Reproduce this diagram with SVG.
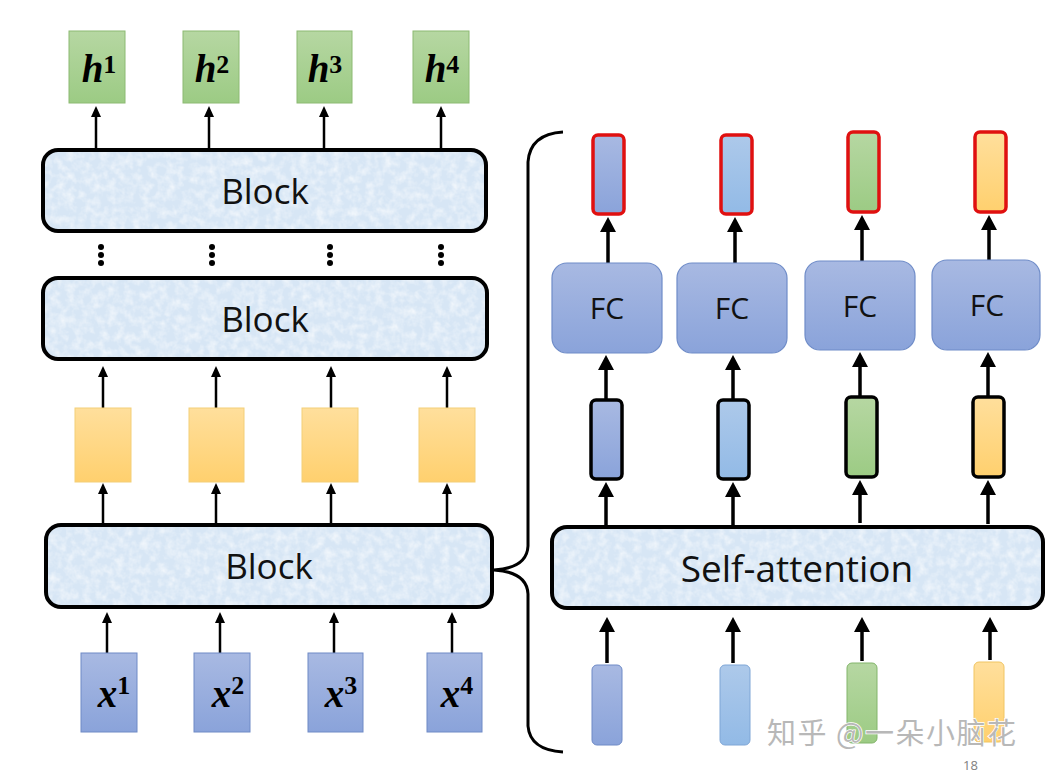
<svg xmlns="http://www.w3.org/2000/svg" width="1049" height="778" viewBox="0 0 1049 778">
<defs>
<style>
.blk{fill:#d7e6f5;stroke:#000;stroke-width:4}
.tex{fill:#000;filter:url(#noise)}
.lbl{font-family:"Open Sans","Noto Sans",sans-serif;fill:#111;text-anchor:middle}
.mi{font-family:"Liberation Serif","DejaVu Serif",serif;font-style:italic;font-weight:bold;font-size:39px;fill:#000}
.sup{font-family:"Liberation Serif","DejaVu Serif",serif;font-style:normal;font-weight:bold;font-size:26px;fill:#000}
.g{fill:url(#gG);stroke:#8cba72;stroke-width:1}
.y{fill:url(#gY);stroke:#f3cf78;stroke-width:1}
.b{fill:url(#gB);stroke:#6e8ac6;stroke-width:1}
.fc{fill:url(#gB);stroke:#6f8cc8;stroke-width:1.2}
.al{stroke:#000;stroke-width:2.5;fill:none;marker-end:url(#ah)}
.ar{stroke:#000;stroke-width:3.5;fill:none;marker-end:url(#ahr)}
.dot{fill:#000}
</style>
<linearGradient id="gG" x1="0" y1="0" x2="0" y2="1"><stop offset="0" stop-color="#b6d7a2"/><stop offset="1" stop-color="#9ccb84"/></linearGradient>
<linearGradient id="gY" x1="0" y1="0" x2="0" y2="1"><stop offset="0" stop-color="#ffdf9c"/><stop offset="1" stop-color="#ffd06e"/></linearGradient>
<linearGradient id="gB" x1="0" y1="0" x2="0" y2="1"><stop offset="0" stop-color="#a8b9e2"/><stop offset="1" stop-color="#8aa3da"/></linearGradient>
<linearGradient id="gLB" x1="0" y1="0" x2="0" y2="1"><stop offset="0" stop-color="#adc9ea"/><stop offset="1" stop-color="#92bae6"/></linearGradient>
<filter id="noise" x="0" y="0" width="1" height="1">
<feTurbulence type="fractalNoise" baseFrequency="0.12" numOctaves="3" seed="3" result="n"/>
<feColorMatrix in="n" type="matrix" values="0 0 0 0 1  0 0 0 0 1  0 0 0 0 1  1.2 0 0 0 -0.45" result="w"/>
<feComposite in="w" in2="SourceAlpha" operator="in"/>
</filter>
<marker id="ah" markerUnits="userSpaceOnUse" markerWidth="11" markerHeight="10" refX="2" refY="5" orient="auto" viewBox="0 0 11 10"><path d="M0,0 L11,5 L0,10 z" fill="#000"/></marker>
<marker id="ahr" markerUnits="userSpaceOnUse" markerWidth="15" markerHeight="16" refX="3" refY="8" orient="auto" viewBox="0 0 15 16"><path d="M0,0 L15,8 L0,16 z" fill="#000"/></marker>
</defs>
<rect width="1049" height="778" fill="#fff"/>

<g id="connectors">
<path class="al" d="M96,150 V115"/><path class="al" d="M209,150 V115"/><path class="al" d="M324,150 V115"/><path class="al" d="M441,150 V115"/>
<path class="al" d="M103,408 V375"/><path class="al" d="M216,408 V375"/><path class="al" d="M331,408 V375"/><path class="al" d="M447,408 V375"/>
<path class="al" d="M103,525 V492"/><path class="al" d="M216,525 V492"/><path class="al" d="M331,525 V492"/><path class="al" d="M447,525 V492"/>
<path class="al" d="M107,653 V621"/><path class="al" d="M220,653 V621"/><path class="al" d="M334,653 V621"/><path class="al" d="M452,653 V621"/>
<path class="ar" d="M607,663 V629"/><path class="ar" d="M733,663 V629"/><path class="ar" d="M862,661 V629"/><path class="ar" d="M990,660 V629"/>
<path class="ar" d="M606,527 V494"/><path class="ar" d="M733,527 V494"/><path class="ar" d="M860,523 V492"/><path class="ar" d="M988,524 V492"/>
<path class="ar" d="M606,400 V367"/><path class="ar" d="M733,400 V367"/><path class="ar" d="M860,397 V364"/><path class="ar" d="M988,397 V364"/>
<path class="ar" d="M608,263 V229"/><path class="ar" d="M735,263 V229"/><path class="ar" d="M862,261 V227"/><path class="ar" d="M989,260 V227"/>
<path d="M563,132 Q530,134 528,162 L528,546 Q527,568 494,570 Q527,572 528,594 L528,726 Q530,750 563,752" fill="none" stroke="#000" stroke-width="3"/>
</g>

<g id="h1"><rect class="g" x="69" y="31" width="56" height="72"/><text x="99" y="82" text-anchor="middle"><tspan class="mi">h</tspan><tspan class="sup" dy="-9">1</tspan></text></g>
<g id="h2"><rect class="g" x="183" y="31" width="56" height="72"/><text x="212" y="82" text-anchor="middle"><tspan class="mi">h</tspan><tspan class="sup" dy="-9">2</tspan></text></g>
<g id="h3"><rect class="g" x="297" y="31" width="55" height="72"/><text x="325" y="82" text-anchor="middle"><tspan class="mi">h</tspan><tspan class="sup" dy="-9">3</tspan></text></g>
<g id="h4"><rect class="g" x="413" y="31" width="56" height="72"/><text x="442" y="82" text-anchor="middle"><tspan class="mi">h</tspan><tspan class="sup" dy="-9">4</tspan></text></g>

<g id="block-top"><rect class="blk" x="43" y="150" width="443" height="81" rx="15"/><rect class="tex" x="45" y="152" width="439" height="77" rx="13"/><text class="lbl" x="265" y="204" font-size="35">Block</text></g>
<g id="dots">
<circle class="dot" cx="101" cy="247" r="3"/><circle class="dot" cx="101" cy="255" r="3"/><circle class="dot" cx="101" cy="263" r="3"/>
<circle class="dot" cx="212" cy="247" r="3"/><circle class="dot" cx="212" cy="255" r="3"/><circle class="dot" cx="212" cy="263" r="3"/>
<circle class="dot" cx="330" cy="247" r="3"/><circle class="dot" cx="330" cy="255" r="3"/><circle class="dot" cx="330" cy="263" r="3"/>
<circle class="dot" cx="441" cy="247" r="3"/><circle class="dot" cx="441" cy="255" r="3"/><circle class="dot" cx="441" cy="263" r="3"/>
</g>
<g id="block-mid"><rect class="blk" x="43" y="278" width="444" height="81" rx="15"/><rect class="tex" x="45" y="280" width="440" height="77" rx="13"/><text class="lbl" x="265" y="332" font-size="35">Block</text></g>

<g id="y1"><rect class="y" x="75" y="408" width="56" height="74"/></g>
<g id="y2"><rect class="y" x="189" y="408" width="55" height="74"/></g>
<g id="y3"><rect class="y" x="302" y="408" width="56" height="74"/></g>
<g id="y4"><rect class="y" x="419" y="408" width="56" height="74"/></g>

<g id="block-bot"><rect class="blk" x="46" y="525" width="446" height="82" rx="15"/><rect class="tex" x="48" y="527" width="442" height="78" rx="13"/><text class="lbl" x="269" y="579" font-size="35">Block</text></g>

<g id="x1"><rect class="b" x="81" y="653" width="56" height="79"/><text x="114" y="707" text-anchor="middle"><tspan class="mi">x</tspan><tspan class="sup" dy="-13">1</tspan></text></g>
<g id="x2"><rect class="b" x="194" y="653" width="56" height="79"/><text x="228" y="707" text-anchor="middle"><tspan class="mi">x</tspan><tspan class="sup" dy="-13">2</tspan></text></g>
<g id="x3"><rect class="b" x="308" y="653" width="55" height="79"/><text x="341" y="707" text-anchor="middle"><tspan class="mi">x</tspan><tspan class="sup" dy="-13">3</tspan></text></g>
<g id="x4"><rect class="b" x="427" y="653" width="55" height="79"/><text x="457" y="707" text-anchor="middle"><tspan class="mi">x</tspan><tspan class="sup" dy="-13">4</tspan></text></g>

<g id="out1"><rect x="593" y="135" width="31" height="79" rx="5" fill="url(#gB)" stroke="#e01010" stroke-width="3.5"/></g>
<g id="out2"><rect x="721" y="135" width="31" height="79" rx="5" fill="url(#gLB)" stroke="#e01010" stroke-width="3.5"/></g>
<g id="out3"><rect x="848" y="132" width="31" height="80" rx="5" fill="url(#gG)" stroke="#e01010" stroke-width="3.5"/></g>
<g id="out4"><rect x="975" y="132" width="31" height="80" rx="5" fill="url(#gY)" stroke="#e01010" stroke-width="3.5"/></g>

<g id="fc1"><rect class="fc" x="552" y="263" width="110" height="90" rx="15"/><text class="lbl" x="607" y="319" font-size="30">FC</text></g>
<g id="fc2"><rect class="fc" x="677" y="263" width="110" height="90" rx="15"/><text class="lbl" x="732" y="319" font-size="30">FC</text></g>
<g id="fc3"><rect class="fc" x="805" y="261" width="110" height="89" rx="15"/><text class="lbl" x="860" y="317" font-size="30">FC</text></g>
<g id="fc4"><rect class="fc" x="932" y="260" width="108" height="90" rx="15"/><text class="lbl" x="987" y="316" font-size="30">FC</text></g>

<g id="mid1"><rect x="591" y="400" width="31" height="79" rx="5" fill="url(#gB)" stroke="#000" stroke-width="3.5"/></g>
<g id="mid2"><rect x="718" y="400" width="31" height="79" rx="5" fill="url(#gLB)" stroke="#000" stroke-width="3.5"/></g>
<g id="mid3"><rect x="846" y="397" width="31" height="80" rx="5" fill="url(#gG)" stroke="#000" stroke-width="3.5"/></g>
<g id="mid4"><rect x="973" y="397" width="31" height="80" rx="5" fill="url(#gY)" stroke="#000" stroke-width="3.5"/></g>

<g id="self-attention"><rect class="blk" x="552" y="527" width="491" height="81" rx="15"/><rect class="tex" x="554" y="529" width="487" height="77" rx="13"/><text class="lbl" x="797" y="582" font-size="37">Self-attention</text></g>

<g id="in1"><rect x="592" y="665" width="30" height="80" rx="5" fill="url(#gB)" stroke="#6e8ac6" stroke-width="1"/></g>
<g id="in2"><rect x="720" y="665" width="30" height="80" rx="5" fill="url(#gLB)" stroke="#7fa6d6" stroke-width="1"/></g>
<g id="in3"><rect x="847" y="663" width="30" height="80" rx="5" fill="url(#gG)" stroke="#82b56a" stroke-width="1"/></g>
<g id="in4"><rect x="974" y="662" width="30" height="80" rx="5" fill="url(#gY)" stroke="#f0c562" stroke-width="1"/></g>

<text x="767" y="744" font-family="'Noto Sans CJK SC',sans-serif" font-size="29" fill="#b8b8b8" stroke="#ffffff" stroke-width="1.5" paint-order="stroke" letter-spacing="1.5">知乎 @一朵小脑花</text>
<text x="963" y="770" font-family="'Open Sans',sans-serif" font-size="13" fill="#808080">18</text>
</svg>
